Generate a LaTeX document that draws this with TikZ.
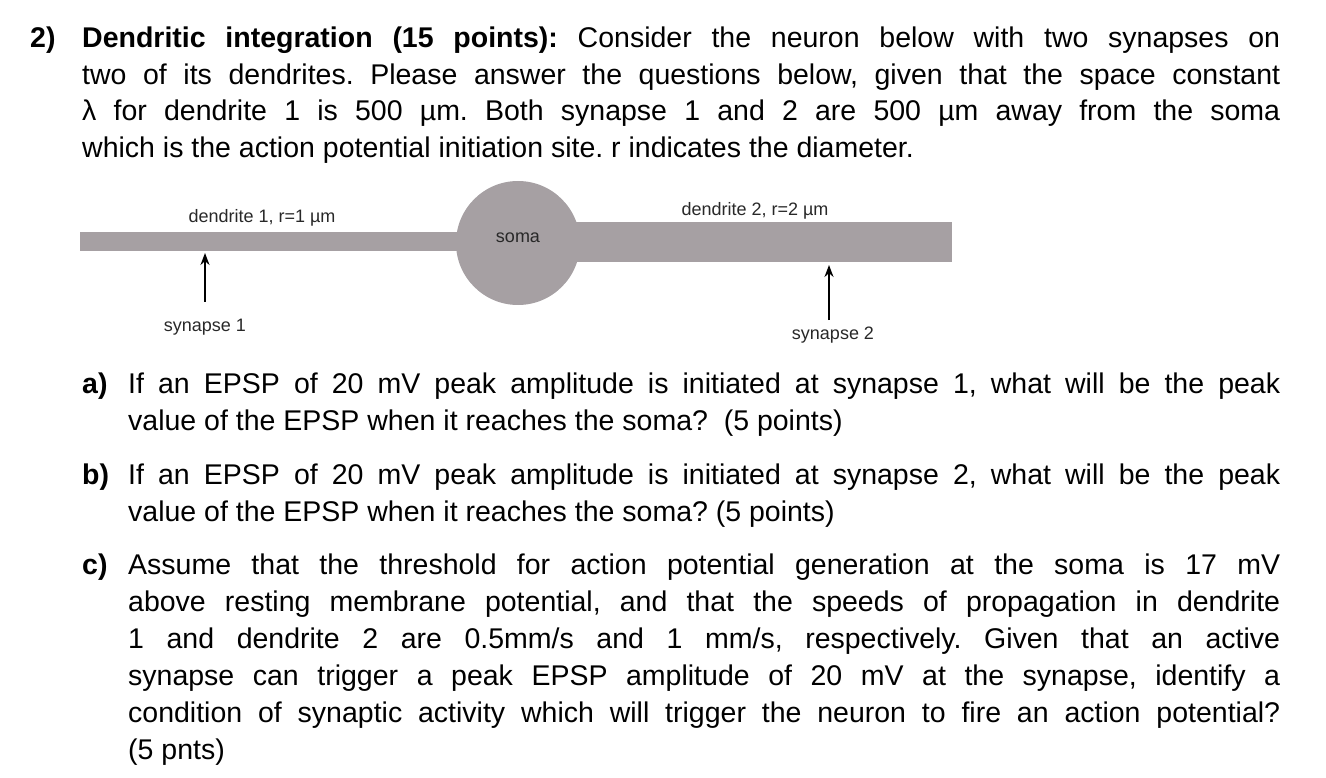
\documentclass[tikz,border=0pt]{standalone}
\usepackage{fontspec}
\setmainfont{Liberation Sans}
\usetikzlibrary{arrows.meta}
\newcommand{\jl}[2]{\hbox to #1pt{#2}}
\begin{document}
\begin{tikzpicture}[x=1pt,y=-1pt,
  ln/.style={anchor=base west,inner sep=0pt,font=\fontsize{28.5}{37}\selectfont\frenchspacing},
  lab/.style={font=\fontsize{18}{20}\selectfont,inner sep=0pt,text={rgb,255:red,40;green,40;blue,40}},
  neur/.style={fill={rgb,255:red,166;green,160;blue,163},draw=none}]
\useasboundingbox (0,0) rectangle (1326,778);
\node[ln] (n2) at (30,48) {\textbf{2)}};
\node[ln] (q1) at (82,48) {\jl{1198}{\textbf{Dendritic integration (15 points):} Consider the neuron below with two synapses on}};
\node[ln] (q2) at (82,85) {\jl{1198}{two of its dendrites. Please answer the questions below, given that the space constant}};
\node[ln] (q3) at (82,121) {\jl{1198}{λ for dendrite 1 is 500 µm. Both synapse 1 and 2 are 500 µm away from the soma}};
\node[ln] (q4) at (82,158) {which is the action potential initiation site. r indicates the diameter.};
\fill[neur] (80,232) rectangle (470,251);
\fill[neur] (560,222) rectangle (952,262);
\node[neur,circle,minimum size=124pt] (soma) at (518,243) {};
\node[lab] (sl) at (518,238) {soma};
\node[lab] (d1) at (262,218) {dendrite 1, r=1 µm};
\node[lab] (d2) at (755,211) {dendrite 2, r=2 µm};
\node[lab] (s1) at (205,327) {synapse 1};
\node[lab] (s2) at (833,335) {synapse 2};
\coordinate (a1) at (205,302); \coordinate (b1) at (205,253);
\coordinate (a2) at (829,320); \coordinate (b2) at (829,265);
\draw[line width=1.8pt,-{Stealth[length=12pt,width=9pt]}] (a1) -- (b1);
\draw[line width=1.8pt,-{Stealth[length=12pt,width=9pt]}] (a2) -- (b2);
\node[ln] (la) at (82,393) {\textbf{a)}};
\node[ln] (a1l) at (128,393) {\jl{1152}{If an EPSP of 20 mV peak amplitude is initiated at synapse 1, what will be the peak}};
\node[ln] (a2l) at (128,430) {value of the EPSP when it reaches the soma?\ \ (5 points)};
\node[ln] (lb) at (82,484) {\textbf{b)}};
\node[ln] (b1l) at (128,484) {\jl{1152}{If an EPSP of 20 mV peak amplitude is initiated at synapse 2, what will be the peak}};
\node[ln] (b2l) at (128,521) {value of the EPSP when it reaches the soma? (5 points)};
\node[ln] (lc) at (82,574) {\textbf{c)}};
\node[ln] (c1) at (128,574) {\jl{1152}{Assume that the threshold for action potential generation at the soma is 17 mV}};
\node[ln] (c2) at (128,611) {\jl{1152}{above resting membrane potential, and that the speeds of propagation in dendrite}};
\node[ln] (c3) at (128,648) {\jl{1152}{1 and dendrite 2 are 0.5mm/s and 1 mm/s, respectively. Given that an active}};
\node[ln] (c4) at (128,685) {\jl{1152}{synapse can trigger a peak EPSP amplitude of 20 mV at the synapse, identify a}};
\node[ln] (c5) at (128,722) {\jl{1152}{condition of synaptic activity which will trigger the neuron to fire an action potential?}};
\node[ln] (c6) at (128,759) {(5 pnts)};
\end{tikzpicture}
\end{document}
